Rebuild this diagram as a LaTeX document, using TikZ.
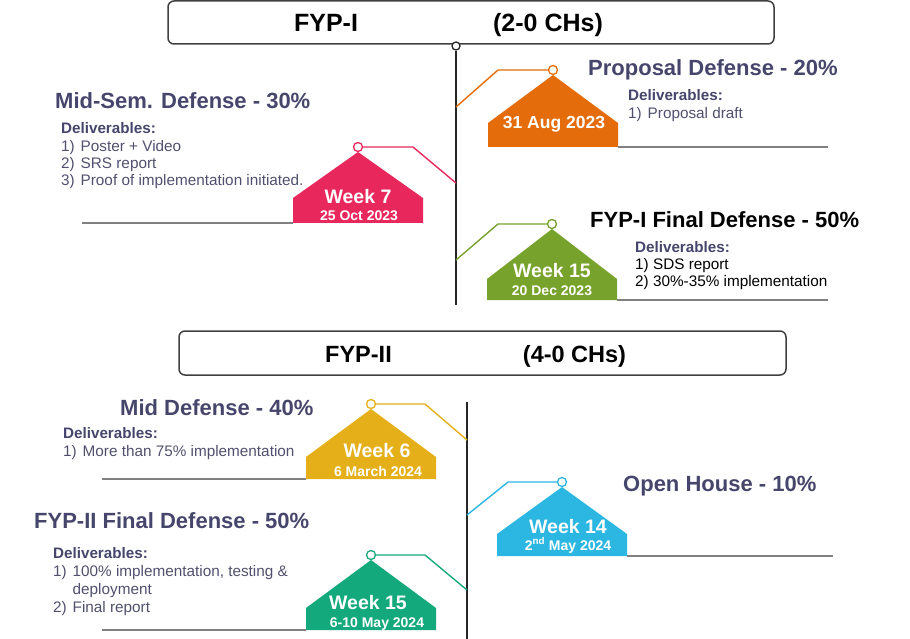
\documentclass[tikz,border=0pt]{standalone}
\usepackage{fontspec}
\setmainfont{Liberation Sans}
\definecolor{titlec}{RGB}{70,70,108}
\definecolor{itemc}{RGB}{80,80,110}
\definecolor{hdrgray}{RGB}{64,64,64}
\definecolor{basegray}{RGB}{128,128,128}
\definecolor{cOrange}{RGB}{228,108,10}
\definecolor{cPink}{RGB}{232,40,92}
\definecolor{cGreen}{RGB}{119,162,44}
\definecolor{cYellow}{RGB}{228,175,24}
\definecolor{cCyan}{RGB}{44,182,226}
\definecolor{cTeal}{RGB}{20,169,124}
\newcommand\myfs[1]{\fontsize{#1}{#1}\selectfont}
\newcommand\num[1]{\makebox[19.5pt][l]{#1}}
\begin{document}
\begin{tikzpicture}[x=1pt,y=-1pt,
  hdrbox/.style={draw=hdrgray, line width=1.5pt, rounded corners=6pt, inner sep=0},
  hdrtxt/.style={font=\bfseries\myfs{25}, anchor=base, inner sep=0},
  ttl/.style={font=\bfseries\myfs{22}, text=titlec, anchor=base west, inner sep=0},
  dlv/.style={font=\bfseries\myfs{15.2}, text=titlec, anchor=base west, inner sep=0},
  itm/.style={font=\myfs{15.3}, text=itemc, anchor=base west, inner sep=0},
  wk/.style={font=\bfseries\myfs{19.5}, text=white, anchor=base, inner sep=0},
  dt/.style={font=\bfseries\myfs{14}, text=white, anchor=base, inner sep=0},
  dot/.style={circle, fill=white, draw, line width=1.3pt, minimum size=9pt, inner sep=0},
  conn/.style={line width=1.4pt},
  baseln/.style={draw=basegray, line width=1.2pt},
  tline/.style={line width=1.5pt, draw=black!85}]
\useasboundingbox (0,0) rectangle (910,639);

% ---------- headers ----------
\node[hdrbox, minimum width=606pt, minimum height=43pt] (h1) at (471,22.5) {};
\node[hdrtxt] (h1a) at (326,32) {FYP-I};
\node[hdrtxt] (h1b) at (548,32) {(2-0 CHs)};
\node[hdrbox, minimum width=607pt, minimum height=44pt] (h2) at (482.5,353) {};
\node[hdrtxt, font=\bfseries\myfs{23.5}] (h2a) at (358.5,362) {FYP-II};
\node[hdrtxt, font=\bfseries\myfs{23.5}] (h2b) at (574.5,362) {(4-0 CHs)};

% ---------- timelines ----------
\node[dot, draw=black!85, minimum size=8pt] (top1) at (456,46) {};
\coordinate (end1) at (456,305);
\draw[tline] (top1.south) -- (end1);
\coordinate (top2) at (467,402);
\coordinate (end2) at (467,639);
\draw[tline] (top2) -- (end2);

% ---------- 1: Proposal (orange) ----------
\fill[cOrange] (488,147) -- (488,123) -- (553,75) -- (618,123) -- (618,147) -- cycle;
\coordinate (b1a) at (618,147); \coordinate (b1b) at (828,147);
\draw[baseln] (b1a) -- (b1b);
\coordinate (k1) at (498,70); \coordinate (t1) at (456,107);
\node[dot, draw=cOrange] (c1) at (553,70) {};
\draw[conn, cOrange] (c1.west) -- (k1) -- (t1);
\node[dt, font=\bfseries\myfs{17.5}] (d1) at (554,129) {31 Aug 2023};
\node[ttl] (T1) at (588,76) {Proposal Defense - 20\%};
\node[dlv] (D1) at (628,100.5) {Deliverables:};
\node[itm] (I1a) at (628,118.5) {\num{1)}Proposal draft};

% ---------- 2: Mid-Sem (pink) ----------
\fill[cPink] (293,223) -- (293,198) -- (358,152) -- (423,198) -- (423,223) -- cycle;
\coordinate (b2a) at (82,223); \coordinate (b2b) at (293,223);
\draw[baseln] (b2a) -- (b2b);
\coordinate (k2) at (413,147); \coordinate (t2) at (456,183);
\node[dot, draw=cPink] (c2) at (358,147) {};
\draw[conn, cPink] (c2.east) -- (k2) -- (t2);
\node[wk] (w2) at (358,204) {Week 7};
\node[dt] (d2) at (359,221) {25 Oct 2023};
\node[ttl] (T2) at (55,109) {Mid-Sem. Defense - 30\%};
\node[dlv] (D2) at (61,133.5) {Deliverables:};
\node[itm] (I2a) at (61,151.5) {\num{1)}Poster + Video};
\node[itm] (I2b) at (61,168.5) {\num{2)}SRS report};
\node[itm] (I2c) at (61,186) {\num{3)}Proof of implementation initiated.};

% ---------- 3: FYP-I Final (green) ----------
\fill[cGreen] (487,300) -- (487,279) -- (552,229) -- (617,279) -- (617,300) -- cycle;
\coordinate (b3a) at (617,300); \coordinate (b3b) at (828,300);
\draw[baseln] (b3a) -- (b3b);
\coordinate (k3) at (498,224); \coordinate (t3) at (456,260);
\node[dot, draw=cGreen] (c3) at (552,224) {};
\draw[conn, cGreen] (c3.west) -- (k3) -- (t3);
\node[wk] (w3) at (552,277) {Week 15};
\node[dt] (d3) at (552,295) {20 Dec 2023};
\node[ttl, text=black] (T3) at (590,228) {FYP-I Final Defense - 50\%};
\node[dlv] (D3) at (635,252) {Deliverables:};
\node[itm, text=black] (I3a) at (635,269.5) {1) SDS report};
\node[itm, text=black] (I3b) at (635,286.5) {2) 30\%-35\% implementation};

% ---------- 4: Mid Defense (yellow) ----------
\fill[cYellow] (306,479) -- (306,457) -- (371,409) -- (436,457) -- (436,479) -- cycle;
\coordinate (b4a) at (102,479); \coordinate (b4b) at (306,479);
\draw[baseln] (b4a) -- (b4b);
\coordinate (k4) at (425,404); \coordinate (t4) at (467,440);
\node[dot, draw=cYellow] (c4) at (371,404) {};
\draw[conn, cYellow] (c4.east) -- (k4) -- (t4);
\node[wk] (w4) at (377,457) {Week 6};
\node[dt] (d4) at (378,476) {6 March 2024};
\node[ttl] (T4) at (120,415) {Mid Defense - 40\%};
\node[dlv] (D4) at (63,438.5) {Deliverables:};
\node[itm] (I4a) at (63,456.5) {\num{1)}More than 75\% implementation};

% ---------- 5: Open House (cyan) ----------
\fill[cCyan] (497,556) -- (497,534) -- (562,487) -- (627,534) -- (627,556) -- cycle;
\coordinate (b5a) at (627,556); \coordinate (b5b) at (833,556);
\draw[baseln] (b5a) -- (b5b);
\coordinate (k5) at (508,482); \coordinate (t5) at (467,515);
\node[dot, draw=cCyan] (c5) at (562,482) {};
\draw[conn, cCyan] (c5.west) -- (k5) -- (t5);
\node[wk] (w5) at (568,533) {Week 14};
\node[dt] (d5) at (568,550) {2\textsuperscript{nd} May 2024};
\node[ttl] (T5) at (623,491) {Open House - 10\%};

% ---------- 6: FYP-II Final (teal) ----------
\fill[cTeal] (306,630) -- (306,608) -- (371,560) -- (436,608) -- (436,630) -- cycle;
\coordinate (b6a) at (102,630); \coordinate (b6b) at (306,630);
\draw[baseln] (b6a) -- (b6b);
\coordinate (k6) at (425,555); \coordinate (t6) at (467,590);
\node[dot, draw=cTeal] (c6) at (371,555) {};
\draw[conn, cTeal] (c6.east) -- (k6) -- (t6);
\node[wk] (w6) at (368,609) {Week 15};
\node[dt] (d6) at (377,627) {6-10 May 2024};
\node[ttl] (T6) at (34,528) {FYP-II Final Defense - 50\%};
\node[dlv] (D6) at (53,558.5) {Deliverables:};
\node[itm] (I6a) at (53,576.5) {\num{1)}100\% implementation, testing \&};
\node[itm] (I6b) at (53,594.5) {\num{}deployment};
\node[itm] (I6c) at (53,612.5) {\num{2)}Final report};
\end{tikzpicture}
\end{document}
